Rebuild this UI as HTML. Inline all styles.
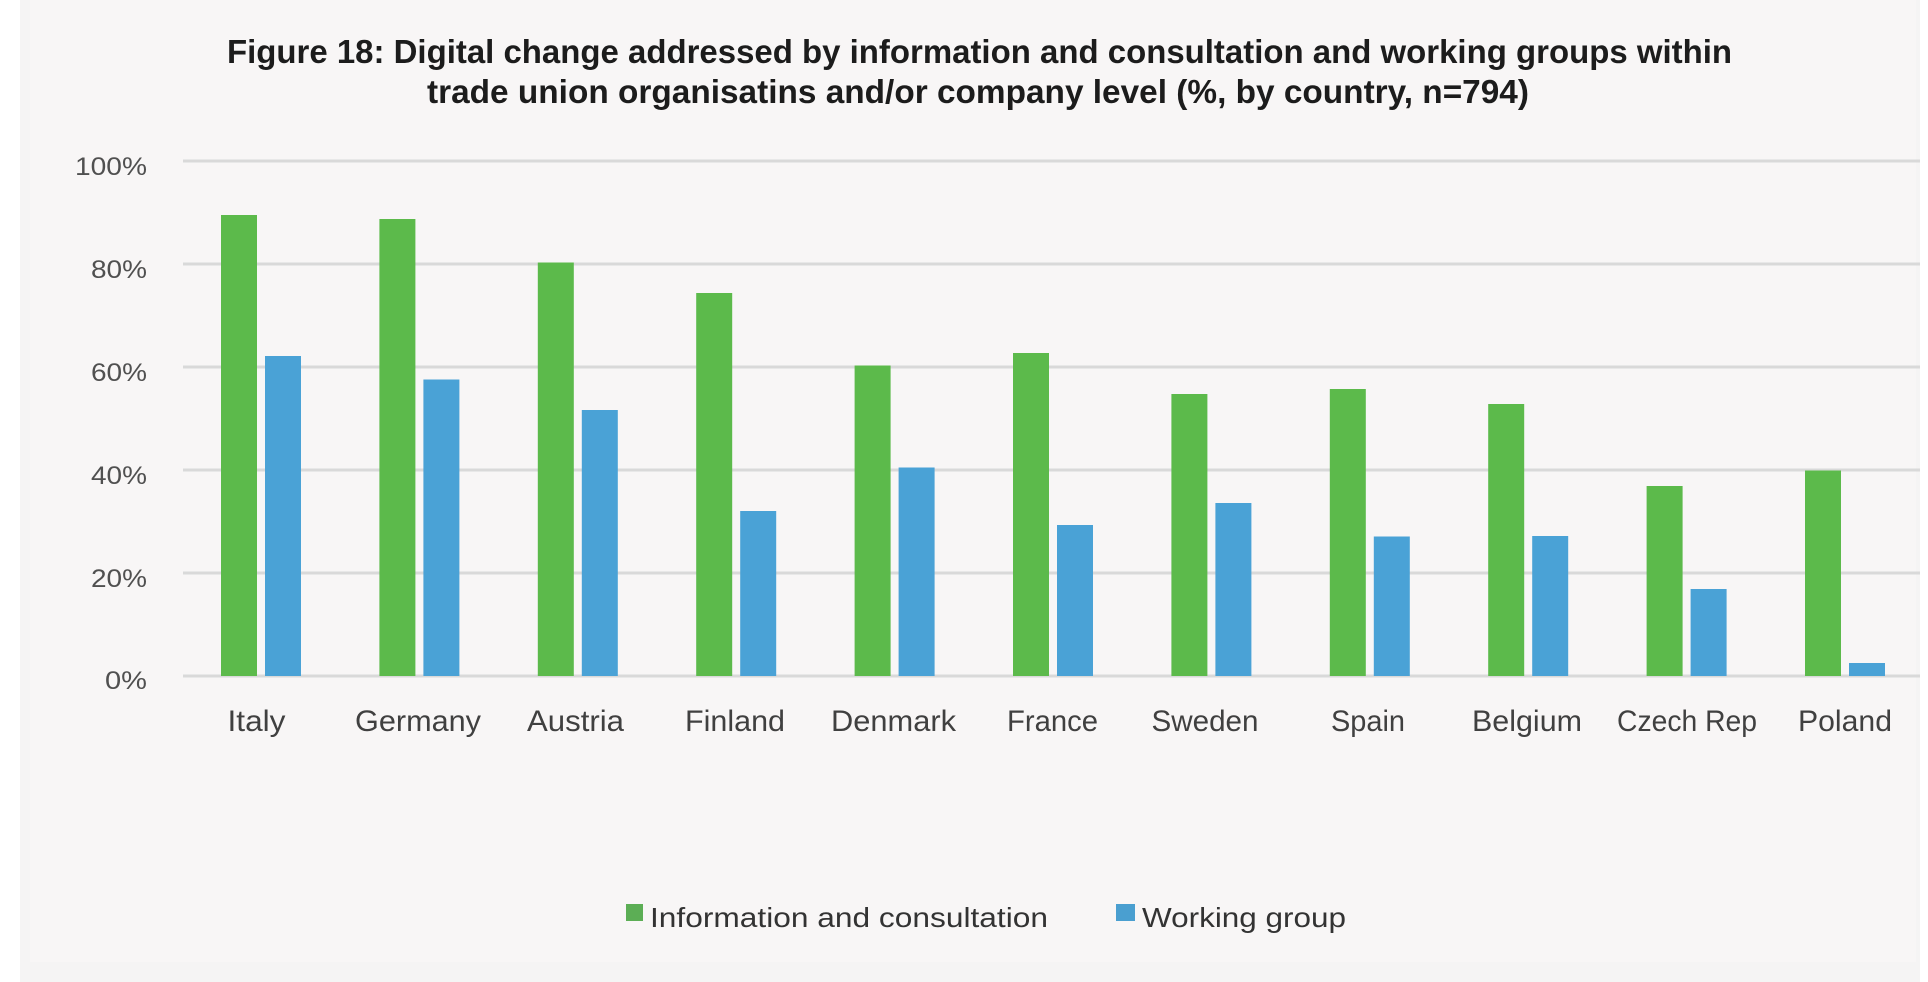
<!DOCTYPE html>
<html>
<head>
<meta charset="utf-8">
<style>
html,body{margin:0;padding:0;background:#ffffff;}
svg{display:block;}
text{font-family:"Liberation Sans",sans-serif;}
</style>
</head>
<body>
<svg width="1928" height="982" viewBox="0 0 1928 982" xmlns="http://www.w3.org/2000/svg">
  <rect x="0" y="0" width="1928" height="982" fill="#ffffff"/>
  <rect x="20" y="0" width="1900" height="982" fill="#f5f4f4"/>
  <rect x="30" y="0" width="1886" height="962" fill="#f8f6f6"/>

  <!-- Title -->
  <text x="227" y="63" font-size="33" font-weight="bold" fill="#1c1c1c" textLength="1505" lengthAdjust="spacingAndGlyphs">Figure 18: Digital change addressed by information and consultation and working groups within</text>
  <text x="427" y="103" font-size="33" font-weight="bold" fill="#1c1c1c" textLength="1102" lengthAdjust="spacingAndGlyphs">trade union organisatins and/or company level (%, by country, n=794)</text>

  <!-- Gridlines -->
  <g stroke="#d9d9d9" stroke-width="3">
    <line x1="183" y1="161" x2="1920" y2="161"/>
    <line x1="183" y1="264" x2="1920" y2="264"/>
    <line x1="183" y1="367" x2="1920" y2="367"/>
    <line x1="183" y1="470" x2="1920" y2="470"/>
    <line x1="183" y1="573" x2="1920" y2="573"/>
    <line x1="183" y1="676" x2="1920" y2="676"/>
  </g>

  <!-- Y labels -->
  <g font-size="25" fill="#505050" text-anchor="end">
    <text x="147" y="175" textLength="72" lengthAdjust="spacingAndGlyphs">100%</text>
    <text x="147" y="278" textLength="56" lengthAdjust="spacingAndGlyphs">80%</text>
    <text x="147" y="381" textLength="56" lengthAdjust="spacingAndGlyphs">60%</text>
    <text x="147" y="484" textLength="56" lengthAdjust="spacingAndGlyphs">40%</text>
    <text x="147" y="587" textLength="56" lengthAdjust="spacingAndGlyphs">20%</text>
    <text x="147" y="689" textLength="42" lengthAdjust="spacingAndGlyphs">0%</text>
  </g>

  <!-- Bars: green = Information and consultation -->
  <g fill="#5cba4b">
    <rect x="221" y="215" width="36" height="461"/>
    <rect x="379.4" y="219" width="36" height="457"/>
    <rect x="537.8" y="262.5" width="36" height="413.5"/>
    <rect x="696.2" y="293" width="36" height="383"/>
    <rect x="854.6" y="365.5" width="36" height="310.5"/>
    <rect x="1013" y="353" width="36" height="323"/>
    <rect x="1171.4" y="394" width="36" height="282"/>
    <rect x="1329.8" y="389" width="36" height="287"/>
    <rect x="1488.2" y="404" width="36" height="272"/>
    <rect x="1646.6" y="486" width="36" height="190"/>
    <rect x="1805" y="470.5" width="36" height="205.5"/>
  </g>
  <!-- Bars: blue = Working group -->
  <g fill="#4aa2d6">
    <rect x="265" y="356" width="36" height="320"/>
    <rect x="423.4" y="379.5" width="36" height="296.5"/>
    <rect x="581.8" y="410" width="36" height="266"/>
    <rect x="740.2" y="511" width="36" height="165"/>
    <rect x="898.6" y="467.5" width="36" height="208.5"/>
    <rect x="1057" y="525" width="36" height="151"/>
    <rect x="1215.4" y="503" width="36" height="173"/>
    <rect x="1373.8" y="536.5" width="36" height="139.5"/>
    <rect x="1532.2" y="536" width="36" height="140"/>
    <rect x="1690.6" y="589" width="36" height="87"/>
    <rect x="1849" y="663" width="36" height="13"/>
  </g>

  <!-- X labels -->
  <g font-size="30" fill="#404040" text-anchor="middle">
    <text x="256.5" y="731" textLength="58" lengthAdjust="spacingAndGlyphs">Italy</text>
    <text x="418" y="731" textLength="126" lengthAdjust="spacingAndGlyphs">Germany</text>
    <text x="575.5" y="731" textLength="97" lengthAdjust="spacingAndGlyphs">Austria</text>
    <text x="735" y="731" textLength="100" lengthAdjust="spacingAndGlyphs">Finland</text>
    <text x="893.5" y="731" textLength="125" lengthAdjust="spacingAndGlyphs">Denmark</text>
    <text x="1052.5" y="731" textLength="91" lengthAdjust="spacingAndGlyphs">France</text>
    <text x="1205" y="731" textLength="107" lengthAdjust="spacingAndGlyphs">Sweden</text>
    <text x="1368" y="731" textLength="74" lengthAdjust="spacingAndGlyphs">Spain</text>
    <text x="1527" y="731" textLength="110" lengthAdjust="spacingAndGlyphs">Belgium</text>
    <text x="1687" y="731" textLength="140" lengthAdjust="spacingAndGlyphs">Czech Rep</text>
    <text x="1845" y="731" textLength="94" lengthAdjust="spacingAndGlyphs">Poland</text>
  </g>

  <!-- Legend -->
  <rect x="626" y="904" width="17" height="17" fill="#5cae55"/>
  <text x="650" y="927" font-size="28" fill="#333333" textLength="398" lengthAdjust="spacingAndGlyphs">Information and consultation</text>
  <rect x="1116" y="904" width="19" height="17" fill="#4a9fd0"/>
  <text x="1142" y="927" font-size="28" fill="#333333" textLength="204" lengthAdjust="spacingAndGlyphs">Working group</text>
</svg>
</body>
</html>
